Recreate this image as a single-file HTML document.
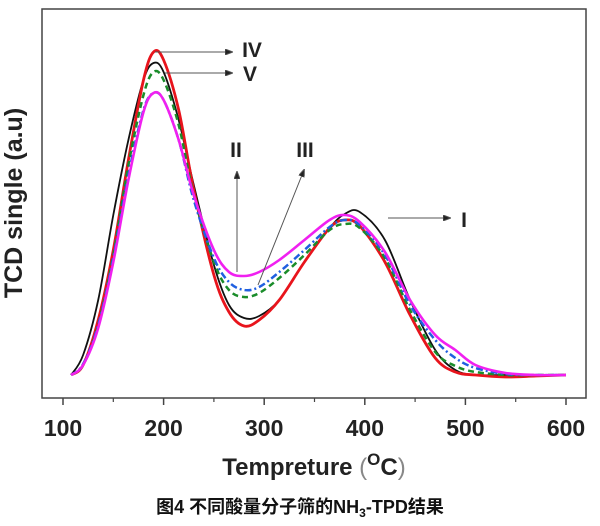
<!DOCTYPE html>
<html><head><meta charset="utf-8"><style>
body{margin:0;background:#fff;width:600px;height:526px;overflow:hidden}
svg{display:block}
text{font-family:"Liberation Sans","Noto Sans CJK SC",sans-serif;font-weight:bold}
</style></head><body>
<svg id="c" width="600" height="526">
<rect x="42" y="9" width="544" height="389" fill="none" stroke="#444" stroke-width="1.5"/>
<g id="ticks"></g>
<g id="series"></g>
<g id="ann" stroke="#555" stroke-width="1" fill="none"></g>
<text x="22" y="203" transform="rotate(-90 22 203)" text-anchor="middle" font-size="25" fill="#222">TCD single (a.u)</text>
<text x="314" y="475" text-anchor="middle" font-size="24" fill="#222">Tempreture <tspan font-weight="normal" fill="#888">(</tspan><tspan dy="-10" font-size="17">O</tspan><tspan dy="10">C</tspan><tspan font-weight="normal" fill="#888">)</tspan></text>
<text x="300" y="513" text-anchor="middle" font-size="18" fill="#111">图4 不同酸量分子筛的NH<tspan font-size="12" dy="4">3</tspan><tspan dy="-4">-TPD结果</tspan></text>
</svg>
<script>
const temps=[108,120,135,150,165,180,190,200,215,230,250,265,280,295,315,340,365,380,395,420,445,470,490,510,540,570,600];
const seriesI=[23,43,98,183,258,318,335,326,278,213,133,93,80,82,98,136,170,184,186,158,98,48,28,23,23,23,23];
const seriesII=[23,33,70,136,218,286,305,298,258,203,148,126,122,126,138,158,178,183,176,146,98,63,48,33,25,23,23];
const seriesIII=[23,34,73,140,223,288,305,298,258,198,140,116,108,111,126,148,171,178,173,143,93,58,40,30,24,23,23];
const seriesIV=[23,33,78,148,238,318,346,338,288,208,123,86,72,78,98,136,170,178,172,136,83,40,26,23,21,22,23];
const seriesV=[23,33,73,143,233,303,326,318,273,203,136,108,101,105,120,143,168,174,170,140,88,46,32,26,23,23,23];
const xTicks=[100,200,300,400,500,600];
const xMinor=[150,250,350,450,550];
const X=t=>63+(t-100)*1.006;
const Y=v=>398-v;
const NS="http://www.w3.org/2000/svg";
function mk(tag,attrs,parent){const e=document.createElementNS(NS,tag);for(const k in attrs)e.setAttribute(k,attrs[k]);parent.appendChild(e);return e;}
const tg=document.getElementById('ticks');
xTicks.forEach(t=>{
 const l=mk('line',{x1:X(t),x2:X(t),y1:398,y2:405,stroke:'#444','stroke-width':1.5},tg);
 
 
 const tx=mk('text',{x:X(t),y:436,'text-anchor':'middle','font-size':23,fill:'#222'},tg);
 tx.textContent=t;
 
 
});
xMinor.forEach(t=>{
 const l=mk('line',{x1:X(t),x2:X(t),y1:398,y2:402,stroke:'#444','stroke-width':1.2},tg);
 
 
});
function path(vals){
 const p=temps.map((t,i)=>[X(t),Y(vals[i])]);
 let d='M'+p[0][0]+','+p[0][1];
 for(let i=0;i<p.length-1;i++){
  const p0=p[i-1]||p[i],p1=p[i],p2=p[i+1],p3=p[i+2]||p2;
  d+=' C'+(p1[0]+(p2[0]-p0[0])/6)+','+(p1[1]+(p2[1]-p0[1])/6)+' '+(p2[0]-(p3[0]-p1[0])/6)+','+(p2[1]-(p3[1]-p1[1])/6)+' '+p2[0]+','+p2[1];
 }
 return d;
}
const sg=document.getElementById('series');
const defs=[
 [seriesI,'#111',1.8,'','series-i'],
 [seriesIV,'#e8141c',2.8,'','series-iv'],
 [seriesV,'#1a8c2a',2.5,'6,4','series-v'],
 [seriesIII,'#2060e0',2.5,'7,3,2,3','series-iii'],
 [seriesII,'#f020f0',2.6,'','series-ii']
];
defs.forEach(s=>{
 const e=mk('path',{d:path(s[0]),fill:'none',stroke:s[1],'stroke-width':s[2]},sg);
 if(s[3])e.setAttribute('stroke-dasharray',s[3]);
 
 
});
const ag=document.getElementById('ann');
mk('defs',{},ag).innerHTML='<marker id="ah" markerWidth="8" markerHeight="6" refX="7" refY="3" orient="auto"><path d="M0,0 L8,3 L0,6 z" fill="#222"/></marker>';
const arrows=[[155,52,232,52,'arrow-iv'],[165,73,232,73,'arrow-v'],[237,272,237,172,'arrow-ii'],[258,285,304,170,'arrow-iii'],[388,218,450,218,'arrow-i']];
arrows.forEach(a=>{
 const l=mk('line',{x1:a[0],y1:a[1],x2:a[2],y2:a[3],'marker-end':'url(#ah)'},ag);
 
 
});
const labels=[['IV',252,57],['V',250,81],['II',236,157],['III',305,157],['I',464,227]];
labels.forEach(L=>{
 const t=mk('text',{x:L[1],y:L[2],'text-anchor':'middle','font-size':21,fill:'#222',stroke:'none'},ag);
 t.textContent=L[0];
 
 
});
</script>
</body></html>
